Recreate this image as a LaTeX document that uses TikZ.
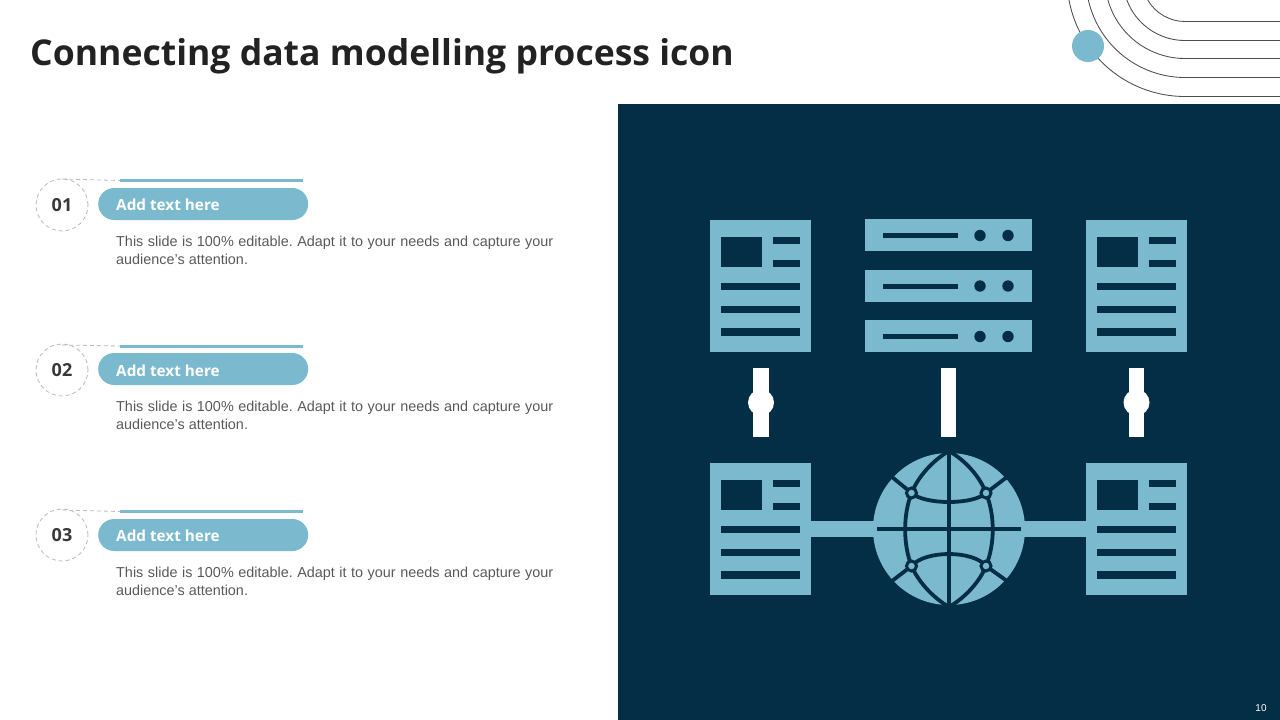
\documentclass[tikz,border=0pt]{standalone}
\usepackage{fontspec}
\setmainfont{Liberation Sans}
\newfontfamily\headfont{Open Sans}
\definecolor{navy}{RGB}{3,46,70}
\definecolor{teal}{RGB}{122,185,206}
\definecolor{ink}{RGB}{34,34,34}
\definecolor{bodygray}{RGB}{89,89,89}
\definecolor{ringgray}{RGB}{185,185,185}
\pgfdeclarelayer{edgelayer}
\pgfdeclarelayer{nodelayer}
\pgfsetlayers{edgelayer,nodelayer,main}
\tikzstyle{panel}=[fill=teal,inner sep=0pt,minimum width=101pt,minimum height=132pt]
\tikzstyle{rack}=[fill=teal,inner sep=0pt,minimum width=167pt,minimum height=32pt]
\tikzstyle{pill}=[fill=teal,rounded corners=16pt,inner sep=0pt,minimum width=210pt,minimum height=32pt]
\tikzstyle{pilltext}=[font=\headfont\bfseries\fontsize{15.3}{18}\selectfont,text=white,anchor=west,inner sep=0pt]
\tikzstyle{badge}=[circle,draw=ringgray,line width=0.8pt,dash pattern=on 4pt off 3pt,inner sep=0pt,minimum size=52pt,font=\headfont\bfseries\fontsize{18}{18}\selectfont,text=ink!90]
\tikzstyle{note}=[font=\fontsize{14.4}{18}\selectfont\frenchspacing,text=bodygray,anchor=north west,inner sep=0pt,text width=437pt,align=justify]
\tikzstyle{link}=[line width=16pt,teal]
\tikzstyle{tether}=[line width=0.8pt,dash pattern=on 4pt off 3pt,ringgray]
\tikzstyle{post}=[fill=white,inner sep=0pt,minimum width=15.5pt,minimum height=69pt]
\tikzstyle{knob}=[circle,fill=white,inner sep=0pt,minimum size=26pt]
\tikzstyle{mesh}=[navy,line width=3.8pt]
\tikzstyle{joint}=[circle,draw=navy,fill=teal,line width=3pt,inner sep=0pt,minimum size=10pt]
\tikzstyle{swoosh}=[draw=black!70,line width=0.85pt]
\newcommand{\sheet}[3]{
    \node [style = panel, anchor=north west] (#1) at (#2, #3) {};
    \begin{scope}[shift={(#2, #3)}]
        \fill [navy] (11, 16.5) rectangle (51.5, 47);
        \fill [navy] (63, 16.5) rectangle (90, 24);
        \fill [navy] (63, 39.5) rectangle (90, 47);
        \fill [navy] (11, 62.5) rectangle (90, 70);
        \fill [navy] (11, 85.5) rectangle (90, 93);
        \fill [navy] (11, 108) rectangle (90, 115.5);
    \end{scope}
}
\newcommand{\rackunit}[2]{
    \node [style = rack] (#1) at (948.5, #2) {};
    \fill [navy] (883, #2-2) rectangle (958, #2+3);
    \fill [navy] (980, #2+.5) circle (5.7pt);
    \fill [navy] (1008, #2+.5) circle (5.7pt);
}
\begin{document}
\begin{tikzpicture}[x=1pt,y=-1pt]
    \useasboundingbox (0, 0) rectangle (1280, 720);
    \begin{pgfonlayer}{edgelayer}
        \fill [navy] (618, 104) rectangle (1280, 720);
        % corner swoosh
        \foreach \r/\y in {43/21.5, 62/40.5, 80/58.5, 99/77.5, 118/96.5} {
            \draw [style = swoosh] (1280, \y) -- (1185, \y) arc [start angle=270, end angle=175, radius=\r pt];
        }
        \draw [link] (760, 529) -- (949, 529);
        \draw [link] (949, 529) -- (1136, 529);
        \draw [style = tether] (62, 179) -- (120, 180.5);
        \draw [style = tether] (62, 345) -- (120, 346);
        \draw [style = tether] (62, 510) -- (120, 511.5);
    \end{pgfonlayer}

    \begin{pgfonlayer}{nodelayer}
        \node [circle, fill=teal, minimum size=32pt, inner sep=0pt] (dot) at (1088, 46) {};
        \node [font=\headfont\bfseries\fontsize{35.55}{40}\selectfont, text=ink, anchor=west, inner sep=0pt] (title) at (30, 56) {Connecting data modelling process icon};
        \node [font=\fontsize{10}{12}\selectfont, text=white] (pageno) at (1261, 708.5) {10};

        % three text rows
        \node [style = badge] (b1) at (62, 205) {01};
        \fill [teal] (120, 179) rectangle (303, 182);
        \node [style = pill, anchor=west] (p1) at (98, 204) {};
        \node [style = pilltext] (t1) at (116, 204.5) {Add text here};
        \node [style = note] (n1) at (116, 236) {This slide is 100\% editable. Adapt it to your needs and capture your audience's attention.};

        \node [style = badge] (b2) at (62, 370) {02};
        \fill [teal] (120, 344.5) rectangle (303, 347.5);
        \node [style = pill, anchor=west] (p2) at (98, 369) {};
        \node [style = pilltext] (t2) at (116, 370.5) {Add text here};
        \node [style = note] (n2) at (116, 401) {This slide is 100\% editable. Adapt it to your needs and capture your audience's attention.};

        \node [style = badge] (b3) at (62, 535) {03};
        \fill [teal] (120, 510) rectangle (303, 513);
        \node [style = pill, anchor=west] (p3) at (98, 535) {};
        \node [style = pilltext] (t3) at (116, 535.5) {Add text here};
        \node [style = note] (n3) at (116, 567) {This slide is 100\% editable. Adapt it to your needs and capture your audience's attention.};

        % icon
        \sheet{docA}{710}{220}
        \sheet{docB}{1086}{220}
        \sheet{docC}{710}{463}
        \sheet{docD}{1086}{463}
        \rackunit{rackA}{235}
        \rackunit{rackB}{285.5}
        \rackunit{rackC}{336}

        \node [style = post] (postA) at (761, 402.5) {};
        \node [style = knob] (knobA) at (761, 402.5) {};
        \node [style = post] (postB) at (948.5, 402.5) {};
        \node [style = post] (postC) at (1136.5, 402.5) {};
        \node [style = knob] (knobC) at (1136.5, 402.5) {};

        % globe
        \node [circle, fill=teal, inner sep=0pt, minimum size=152pt] (globe) at (949, 529) {};
        \coordinate (top) at (949, 451);
        \coordinate (bottom) at (949, 607);
        \coordinate (west) at (877, 529);
        \coordinate (east) at (1021, 529);
        \coordinate (g1) at (911.5, 493);
        \coordinate (g2) at (986, 493);
        \coordinate (g3) at (911.5, 566);
        \coordinate (g4) at (986, 566);
        \draw [style = mesh] (top) -- (bottom);
        \draw [style = mesh] (west) -- (east);
        \draw [style = mesh] (top) .. controls (932, 461) and (918, 477) .. (g1);
        \draw [style = mesh] (top) .. controls (966, 461) and (980, 477) .. (g2);
        \draw [style = mesh] (bottom) .. controls (932, 597) and (918, 581) .. (g3);
        \draw [style = mesh] (bottom) .. controls (966, 597) and (980, 581) .. (g4);
        \draw [style = mesh] (g1) .. controls (903, 515) and (903, 544) .. (g3);
        \draw [style = mesh] (g2) .. controls (995, 515) and (995, 544) .. (g4);
        \draw [style = mesh] (g1) .. controls (925, 505) and (973, 505) .. (g2);
        \draw [style = mesh] (g3) .. controls (925, 550) and (973, 550) .. (g4);
        \draw [style = mesh] (g1) -- (892, 477);
        \draw [style = mesh] (g2) -- (1007, 477);
        \draw [style = mesh] (g3) -- (892, 581);
        \draw [style = mesh] (g4) -- (1007, 581);
        \node [style = joint] (j1) at (g1) {};
        \node [style = joint] (j2) at (g2) {};
        \node [style = joint] (j3) at (g3) {};
        \node [style = joint] (j4) at (g4) {};
    \end{pgfonlayer}
\end{tikzpicture}
\end{document}
